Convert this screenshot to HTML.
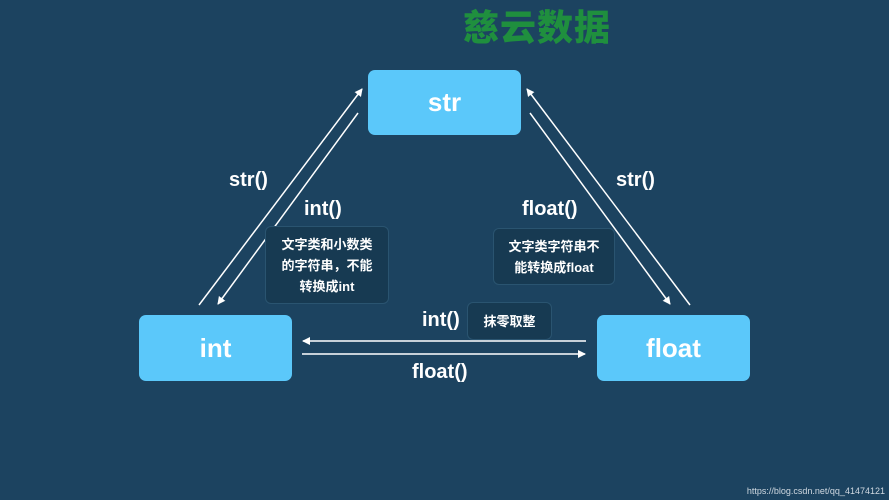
<!DOCTYPE html>
<html><head><meta charset="utf-8"><style>
body{margin:0;width:889px;height:500px;background:#1c4360;position:relative;overflow:hidden;font-family:"Liberation Sans","Noto Sans CJK SC",sans-serif;color:#fff}
.box{position:absolute;background:#5bc8fa;border-radius:7px;display:flex;align-items:center;justify-content:center;font-weight:bold;font-size:26px;color:#fff}
.lbl{position:absolute;font-weight:bold;font-size:20px}
.note{position:absolute;background:#173a52;border:1px solid #2a5470;border-radius:6px;font-size:13px;font-weight:bold;text-align:center;line-height:21px;display:flex;align-items:center;justify-content:center}
</style></head><body>
<div style="position:absolute;left:463px;top:6px;font-size:36px;font-weight:900;color:#1f8f3e;letter-spacing:1px;line-height:44px">慈云数据</div>
<div class="box" style="left:368px;top:70px;width:153px;height:65px">str</div>
<div class="box" style="left:139px;top:315px;width:153px;height:66px">int</div>
<div class="box" style="left:597px;top:315px;width:153px;height:66px">float</div>
<svg width="889" height="500" style="position:absolute;left:0;top:0">
<defs><marker id="a" markerWidth="8" markerHeight="8" refX="7" refY="4" orient="auto" markerUnits="userSpaceOnUse"><path d="M0,0 L8,4 L0,8 z" fill="#fff"/></marker></defs>
<g stroke="#fff" stroke-width="1.5">
<line x1="199" y1="305" x2="362" y2="89" marker-end="url(#a)"/>
<line x1="358" y1="113" x2="218" y2="304" marker-end="url(#a)"/>
<line x1="690" y1="305" x2="527" y2="89" marker-end="url(#a)"/>
<line x1="530" y1="113" x2="670" y2="304" marker-end="url(#a)"/>
<line x1="586" y1="341" x2="303" y2="341" marker-end="url(#a)"/>
<line x1="302" y1="354" x2="585" y2="354" marker-end="url(#a)"/>
</g></svg>
<div class="lbl" style="left:229px;top:169px">str()</div>
<div class="lbl" style="left:304px;top:198px">int()</div>
<div class="lbl" style="left:616px;top:169px">str()</div>
<div class="lbl" style="left:522px;top:198px">float()</div>
<div class="lbl" style="left:422px;top:309px">int()</div>
<div class="lbl" style="left:412px;top:361px">float()</div>
<div class="note" style="left:265px;top:226px;width:122px;height:76px">文字类和小数类<br>的字符串，不能<br>转换成int</div>
<div class="note" style="left:493px;top:228px;width:120px;height:55px">文字类字符串不<br>能转换成float</div>
<div class="note" style="left:467px;top:302px;width:83px;height:36px">抹零取整</div>
<div style="position:absolute;right:4px;bottom:4px;font-size:9px;color:#cfd8e0">https://blog.csdn.net/qq_41474121</div>
</body></html>
